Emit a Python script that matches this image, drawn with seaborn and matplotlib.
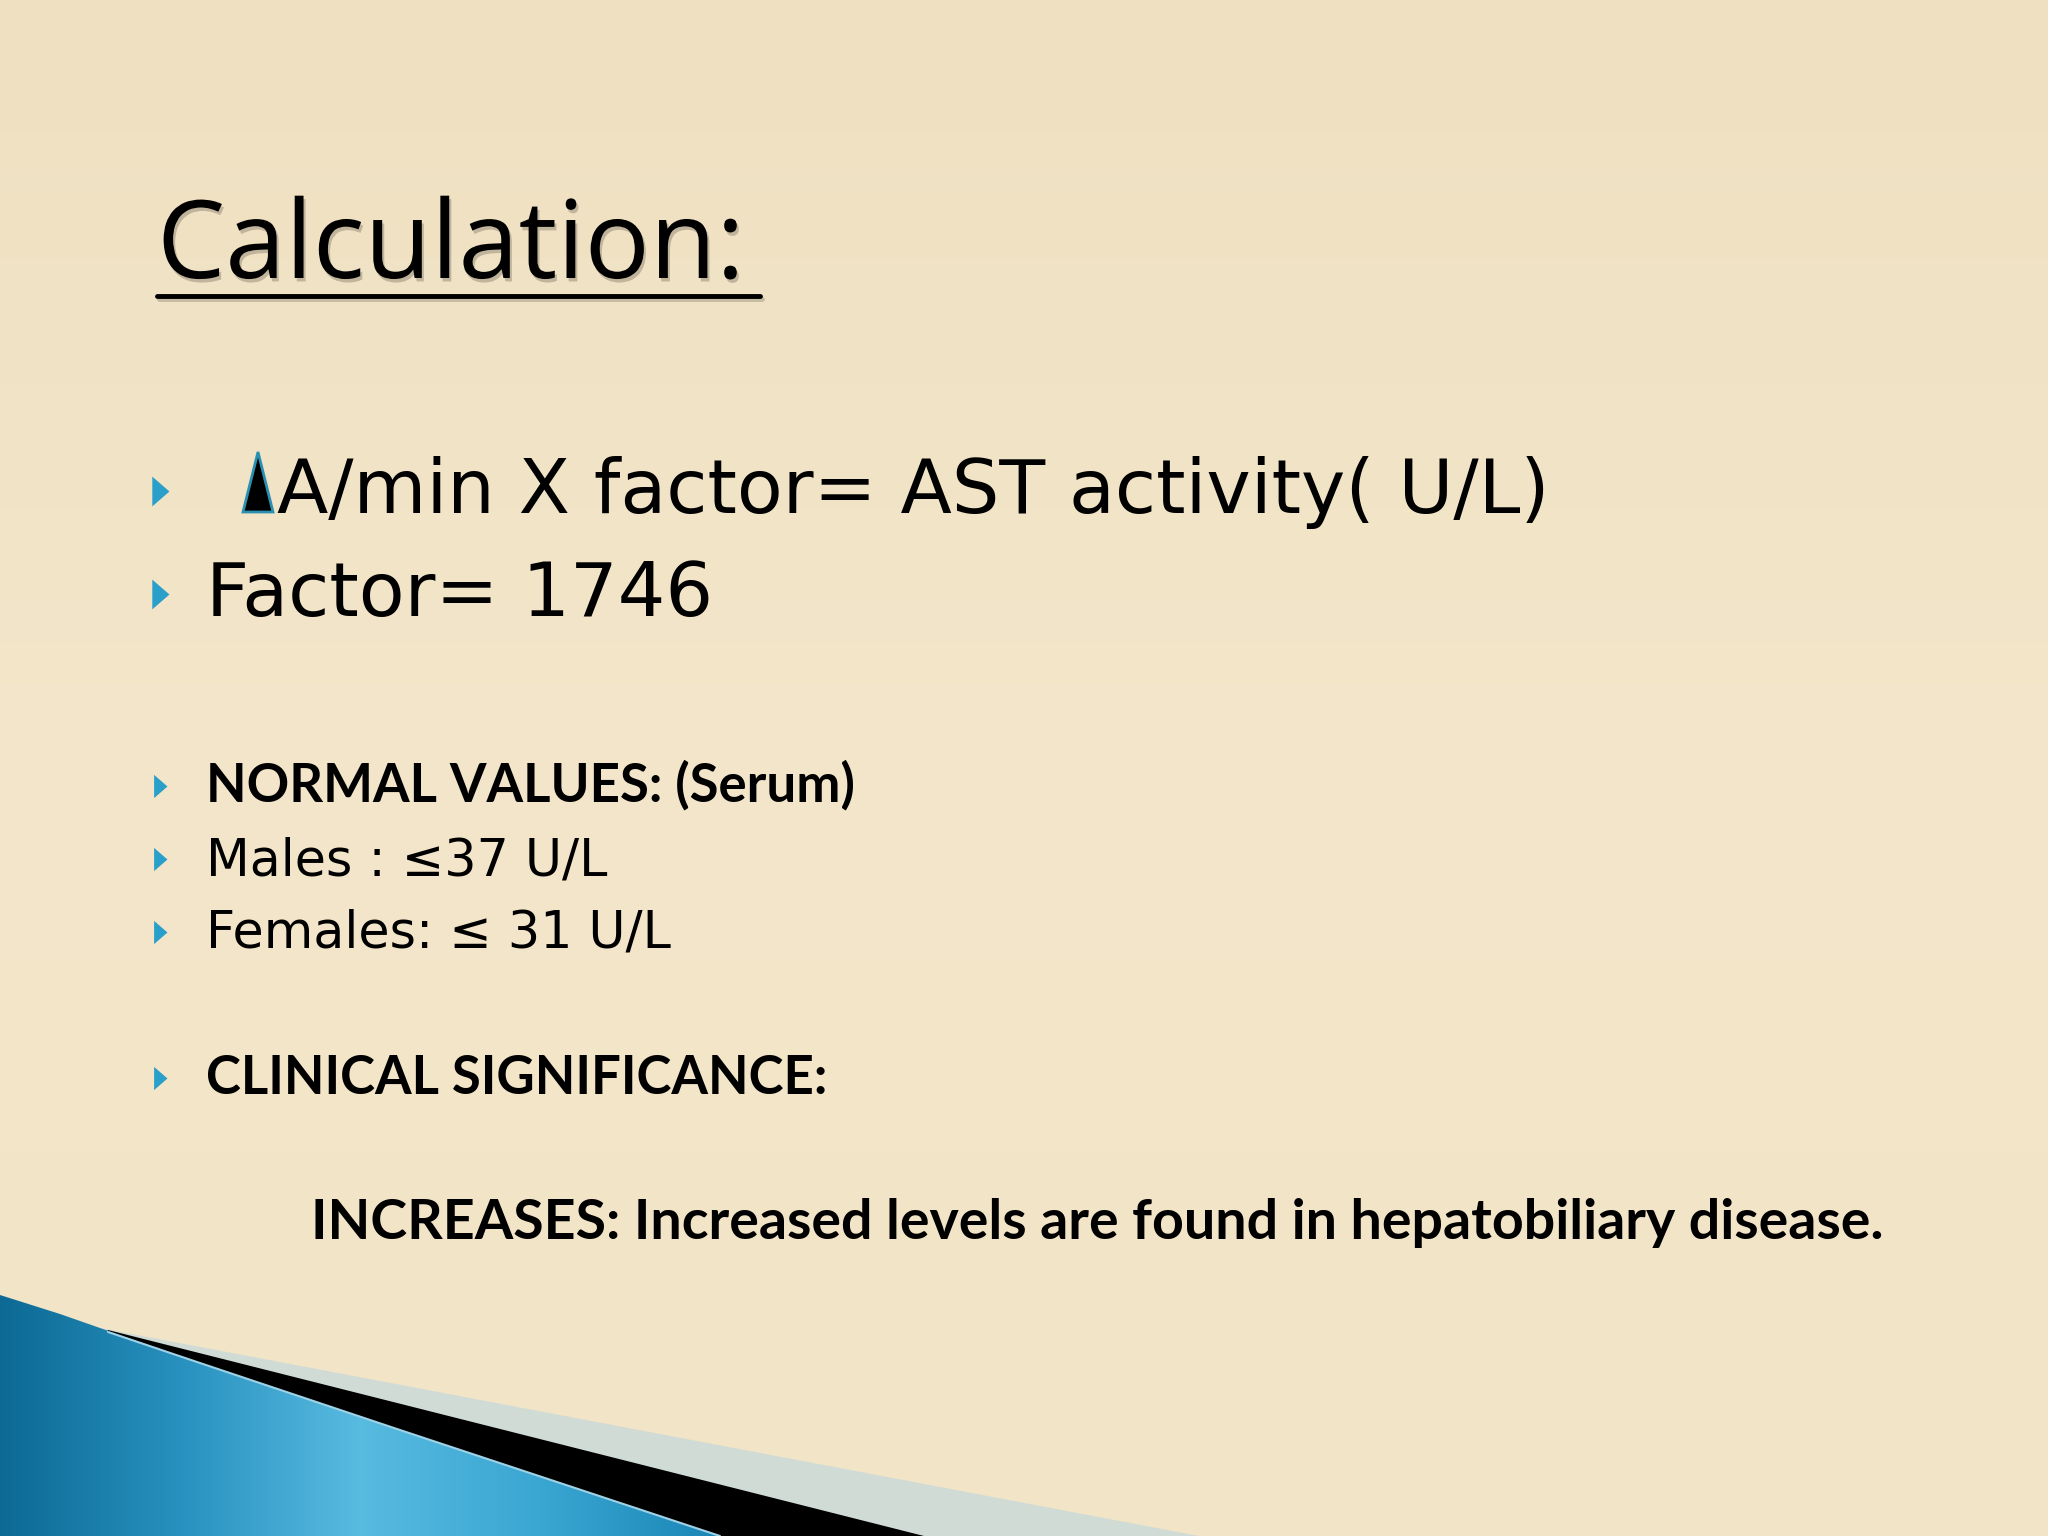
"""
Slide recreation - AST calculation
"""

import numpy as np
import matplotlib.pyplot as plt
import matplotlib.patheffects as pe
from matplotlib.patches import Polygon
from matplotlib.colors import LinearSegmentedColormap
import seaborn as sns

sns.set_theme(style='white')
plt.rcParams['font.family'] = ['DejaVu Sans']

# Slide content
title_text = 'Calculation:'
big_lines = ['A/min X factor= AST activity( U/L)', 'Factor= 1746']
small_lines = ['NORMAL VALUES: (Serum)', 'Males : \u226437 U/L',
               'Females: \u2264 31 U/L', 'CLINICAL SIGNIFICANCE:']
small_bold = [True, False, False, True]
note_text = 'INCREASES: Increased levels are found in hepatobiliary disease.'

BG = '#f2e4c6'
BULLET = '#2a9fc9'
W, H = 2048, 1536

fig = plt.figure(figsize=(20.48, 15.36), dpi=100, facecolor=BG)
ax = fig.add_axes([0, 0, 1, 1])
ax.set_xlim(0, W)
ax.set_ylim(H, 0)
ax.axis('off')
ax.set_facecolor(BG)

# soft vertical gradient for the paper background
bg = np.linspace(0, 1, 256).reshape(-1, 1)
bg_cmap = LinearSegmentedColormap.from_list('bg', ['#efe0c1', '#f3e6ca', '#f2e4c6'])
ax.imshow(bg, extent=[0, W, H, 0], cmap=bg_cmap, aspect='auto', zorder=0)

# --- title ---
title = ax.text(157, 278, title_text, fontsize=78, family='Open Sans', color='black',
                va='baseline', ha='left', zorder=5)
title.set_path_effects([pe.SimplePatchShadow(offset=(1.5, -2.5), alpha=0.2), pe.Normal()])
ax.plot([157, 760], [296, 296], color='black', lw=3.5, zorder=5,
        path_effects=[pe.SimpleLineShadow(offset=(1.5, -2.5), alpha=0.2), pe.Normal()])

# bullet marker shape
tri = [(-0.55, -1), (0.6, 0), (-0.55, 1), (-0.55, -1)]


def bullet(y, size):
    ax.scatter([160], [y], marker=tri, s=size, color=BULLET, linewidths=0, zorder=5)


# --- big lines ---
big_base = [513, 616]
for i, (txt, yb) in enumerate(zip(big_lines, big_base)):
    x0 = 206
    if i == 0:
        # delta sign drawn as a tall triangle
        ax.add_patch(Polygon([(243, 512), (258, 452), (273, 512)], closed=True,
                             facecolor='black', edgecolor='#2a8fb0', lw=2, zorder=5))
        x0 = 277
    ax.text(x0, yb, txt, fontsize=54, color='black', va='baseline', ha='left', zorder=5)
    bullet(yb - 22, 460)

# --- small lines ---
small_base = [802, 875, 948, 1094]
for txt, yb, b in zip(small_lines, small_base, small_bold):
    if b:
        ax.text(206, yb, txt, fontsize=38, family='Lato', weight='bold',
                color='black', va='baseline', ha='left', zorder=5)
    else:
        ax.text(206, yb, txt, fontsize=36.5, color='black', va='baseline', ha='left', zorder=5)
    bullet(yb - 16, 280)

ax.text(311, 1239, note_text, fontsize=40, family='Lato', weight='bold',
        color='black', va='baseline', ha='left', zorder=5)

# --- bottom-left swoosh decoration ---
pale = Polygon([(100, 1328), (1199, 1536), (0, 1536)], closed=True,
               facecolor='#d0dbd5', edgecolor='none', zorder=2)
ax.add_patch(pale)
black = Polygon([(108, 1330), (924, 1536), (0, 1536)], closed=True,
                facecolor='black', edgecolor='none', zorder=3)
ax.add_patch(black)
blue = Polygon([(0, 1295), (60, 1314), (200, 1363), (400, 1430), (720, 1536), (0, 1536)],
               closed=True, facecolor='none', edgecolor='none', zorder=4)
ax.add_patch(blue)
grad = np.linspace(0, 1, 512).reshape(1, -1)
blue_cmap = LinearSegmentedColormap.from_list(
    'blue', ['#0d6a94', '#2891bf', '#58bbe0', '#3aa6d2', '#1a86b6'])
im = ax.imshow(grad, extent=[0, 720, 1536, 1295], cmap=blue_cmap, aspect='auto', zorder=4)
im.set_clip_path(blue)
ax.plot([108, 200, 400, 720], [1332, 1363, 1430, 1536], color='#9fd2e6', lw=1.5, zorder=4)

ax.set_xlim(0, W)
ax.set_ylim(H, 0)

plt.savefig('out.png', dpi=100, facecolor=BG)
plt.close()
